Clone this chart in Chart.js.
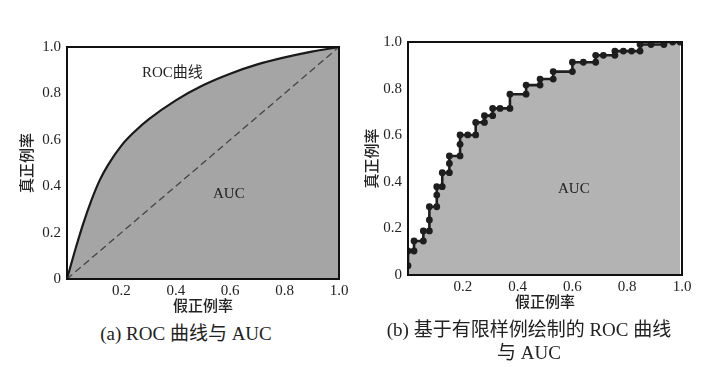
<!DOCTYPE html>
<html>
<head>
<meta charset="utf-8">
<script src="https://cdn.jsdelivr.net/npm/chart.js@4"></script>
<style>
  html, body { margin: 0; padding: 0; background: #fff; }
  #wrap { position: relative; width: 717px; height: 367px; overflow: hidden; }
  canvas { position: absolute; top: 0; }
  .lbl { position: absolute; font-family: "Liberation Serif", "Noto Sans CJK SC", serif; font-size: 15px; color: #222; white-space: nowrap; line-height: 16px; }
  .cap { position: absolute; font-family: "Liberation Serif", "Noto Sans CJK SC", serif; font-size: 19px; color: #222; text-align: center; line-height: 23px; white-space: nowrap; }
</style>
</head>
<body>
<div id="wrap">
  <canvas id="rocA" width="360" height="320" style="left:0"></canvas>
  <canvas id="rocB" width="357" height="320" style="left:360px"></canvas>
  <div class="lbl" style="left:142px; top:64px;">ROC曲线</div>
  <div class="lbl" style="left:213px; top:185px;">AUC</div>
  <div class="lbl" style="left:558px; top:180px;">AUC</div>
  <div class="cap" style="left:0; width:372px; top:322px;">(a) ROC 曲线与 AUC</div>
  <div class="cap" style="left:370px; width:318px; top:318px;">(b) 基于有限样例绘制的 ROC 曲线<br>与 AUC</div>
</div>
<script>
// ====== Datos ======
// (a) curva ROC suave
const fprA = [0, 0.03, 0.06, 0.09, 0.12, 0.15, 0.2, 0.25, 0.3, 0.4, 0.5, 0.6, 0.7, 0.8, 0.9, 1.0];
const tprA = [0, 0.125, 0.24, 0.34, 0.425, 0.49, 0.575, 0.637, 0.688, 0.77, 0.835, 0.885, 0.925, 0.955, 0.98, 1.0];
const diagX = [0, 1];
const diagY = [0, 1];

// (b) curva ROC por muestras finitas
const fprB = [0, 0, 0.022, 0.022, 0.056, 0.056, 0.078, 0.078, 0.078, 0.105, 0.105, 0.105, 0.125, 0.125,
  0.151, 0.151, 0.151, 0.19, 0.19, 0.19, 0.218, 0.247, 0.247, 0.279, 0.279, 0.309, 0.309, 0.336, 0.372,
  0.372, 0.431, 0.431, 0.482, 0.482, 0.53, 0.53, 0.6, 0.6, 0.64, 0.685, 0.685, 0.713, 0.755, 0.755,
  0.786, 0.816, 0.847, 0.847, 0.887, 0.934, 0.934, 0.966, 0.993];
const tprB = [0.04, 0.103, 0.103, 0.146, 0.146, 0.189, 0.189, 0.236, 0.293, 0.293, 0.343, 0.379, 0.379, 0.439,
  0.439, 0.479, 0.511, 0.511, 0.561, 0.601, 0.601, 0.601, 0.655, 0.655, 0.684, 0.684, 0.715, 0.715, 0.715,
  0.776, 0.776, 0.815, 0.815, 0.841, 0.841, 0.873, 0.873, 0.913, 0.913, 0.913, 0.943, 0.943, 0.943, 0.961,
  0.961, 0.961, 0.961, 0.989, 0.989, 0.989, 1.0, 1.0, 1.0];

const tickVals = [0, 0.2, 0.4, 0.6, 0.8, 1.0];
const xTitle = '假正例率';
const yTitle = '真正例率';

const pts = (xs, ys) => xs.map((x, i) => ({ x, y: ys[i] }));

// ====== Marco del área ======
const frame = {
  id: 'frame',
  afterDatasetsDraw(chart) {
    const { ctx, chartArea: a } = chart;
    ctx.save();
    ctx.strokeStyle = '#111';
    ctx.lineWidth = 2;
    ctx.strokeRect(a.left, a.top, a.right - a.left, a.bottom - a.top);
    ctx.restore();
  }
};

const tickFont = { family: '"Liberation Serif", serif', size: 15 };
const titleFont = { family: '"Noto Sans CJK SC", sans-serif', size: 15, weight: '500', lineHeight: 1 };

function makeOptions(o) {
  return {
    responsive: false,
    animation: false,
    layout: { padding: o.padding },
    plugins: { legend: { display: false }, tooltip: { enabled: false } },
    scales: {
      x: {
        type: 'linear', min: 0, max: 1,
        afterFit: (s) => { s.height = o.xHeight; },
        afterBuildTicks: (s) => { s.ticks = tickVals.map(v => ({ value: v })); },
        grid: { display: false, drawTicks: false },
        border: { display: false },
        ticks: {
          color: '#222', font: tickFont, padding: 3, maxRotation: 0,
          callback: (v) => v === 0 ? '' : v.toFixed(1)
        },
        title: { display: true, text: xTitle, color: '#222', font: titleFont, padding: { bottom: o.xTitlePad } }
      },
      y: {
        type: 'linear', min: 0, max: 1,
        afterFit: (s) => { s.width = o.yWidth; },
        afterBuildTicks: (s) => { s.ticks = tickVals.map(v => ({ value: v })); },
        grid: { display: false, drawTicks: false },
        border: { display: false },
        ticks: {
          color: '#222', font: tickFont, padding: 6,
          callback: (v) => v === 0 ? '0' : v.toFixed(1)
        },
        title: { display: true, text: yTitle, color: '#222', font: titleFont, padding: { top: o.yTitlePad } }
      }
    }
  };
}

// ====== (a) ROC 曲线与 AUC ======
new Chart(document.getElementById('rocA').getContext('2d'), {
  type: 'line',
  data: {
    datasets: [
      {
        data: pts(diagX, diagY),
        borderColor: '#444', borderWidth: 1.3, borderDash: [7, 4],
        pointRadius: 0, fill: false
      },
      {
        data: pts(fprA, tprA),
        borderColor: '#1a1a1a', borderWidth: 2.2,
        cubicInterpolationMode: 'monotone',
        pointRadius: 0,
        fill: 'origin', backgroundColor: '#a5a5a5'
      }
    ]
  },
  options: makeOptions({ padding: { top: 47, right: 21, left: 0, bottom: 0 }, xHeight: 41, yWidth: 67, xTitlePad: 7, yTitlePad: 19 }),
  plugins: [frame]
});

// ====== (b) ROC por muestras finitas ======
new Chart(document.getElementById('rocB').getContext('2d'), {
  type: 'line',
  data: {
    datasets: [
      {
        data: pts(fprB, tprB),
        borderColor: '#1e1e1e', borderWidth: 2.6,
        tension: 0,
        pointRadius: 3.4, pointBackgroundColor: '#1e1e1e', pointBorderWidth: 0,
        fill: 'origin', backgroundColor: '#b3b3b3'
      }
    ]
  },
  options: makeOptions({ padding: { top: 42, right: 35, left: 0, bottom: 0 }, xHeight: 45, yWidth: 48, xTitlePad: 11, yTitlePad: 4 }),
  plugins: [frame]
});
</script>
</body>
</html>
